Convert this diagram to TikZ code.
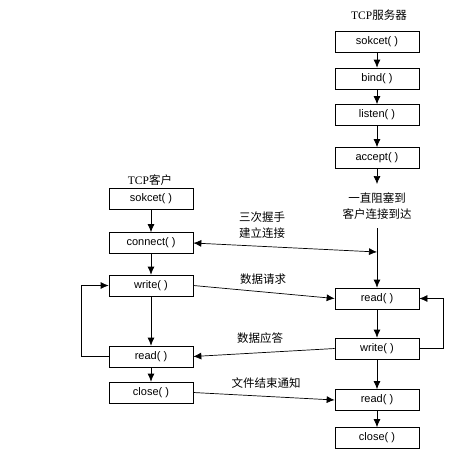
\documentclass[tikz,border=0pt]{standalone}
\usepackage{fontspec}
\setmainfont{Liberation Serif}
\newfontfamily\cjk{Noto Sans CJK SC}
\newfontfamily\callfont{Liberation Sans}
\usepackage{tikz}
\usetikzlibrary{arrows.meta}

\begin{document}
\begin{tikzpicture}[x=1pt, y=-1pt, line width=0.7pt, >={Latex[length=8pt,width=7pt]},
    callbox/.style={rectangle, draw, minimum width=84pt, minimum height=21pt, inner sep=0pt, font=\callfont\fontsize{11}{13}\selectfont},
    note/.style={font=\cjk\fontsize{11.5}{16}\selectfont, align=center}]
                \useasboundingbox (0,0) rectangle (474,451);

                % Server side
                \node (stitle) at (379,15) {\fontsize{11.5}{14}\selectfont TCP{\cjk 服务器}};
                \node[callbox] (ssock) at (377,42) {sokcet( )};
                \node[callbox] (sbind) at (377,78.5) {bind( )};
                \node[callbox] (slisten) at (377,115) {listen( )};
                \node[callbox] (saccept) at (377,158) {accept( )};
                \coordinate (sblock) at (377,184);
                \node[note] (swait) at (377,206) {一直阻塞到\\客户连接到达};
                \coordinate (swaitend) at (377,228);
                \coordinate (sjoin) at (377,252);
                \node[callbox] (sread1) at (377,298.5) {read( )};
                \node[callbox] (swrite) at (377,348.5) {write( )};
                \node[callbox] (sread2) at (377,400) {read( )};
                \node[callbox] (sclose) at (377,438) {close( )};

                \draw[->] (ssock) -- (sbind);
                \draw[->] (sbind) -- (slisten);
                \draw[->] (slisten) -- (saccept);
                \draw[->] (saccept) -- (sblock);
                \draw[->] (swaitend) -- (sread1);
                \draw[->] (sread1) -- (swrite);
                \draw[->] (swrite) -- (sread2);
                \draw[->] (sread2) -- (sclose);
                \draw[->] (swrite.east) -- ++(24,0) |- (sread1.east);

                % Client side
                \node (ctitle) at (150,180) {\fontsize{11.5}{14}\selectfont TCP{\cjk 客户}};
                \node[callbox] (csock) at (151,199) {sokcet( )};
                \node[callbox] (cconn) at (151,243) {connect( )};
                \node[callbox] (cwrite) at (151,285.5) {write( )};
                \node[callbox] (cread) at (151,356.5) {read( )};
                \node[callbox] (cclose) at (151,392.5) {close( )};

                \draw[->] (csock) -- (cconn);
                \draw[->] (cconn) -- (cwrite);
                \draw[->] (cwrite) -- (cread);
                \draw[->] (cread) -- (cclose);
                \draw[->] (cread.west) -- ++(-27,0) |- (cwrite.west);

                % Messages between the two
                \draw[<->] (cconn.east) -- (sjoin);
                \node[note] (lconn) at (262,225) {三次握手\\建立连接};
                \draw[->] (cwrite.east) -- (sread1.west);
                \node[note] (lreq) at (263,279) {数据请求};
                \draw[->] (swrite.west) -- (cread.east);
                \node[note] (lans) at (260,338) {数据应答};
                \draw[->] (cclose.east) -- (sread2.west);
                \node[note] (lend) at (266,383) {文件结束通知};
            \end{tikzpicture}
\end{document}
